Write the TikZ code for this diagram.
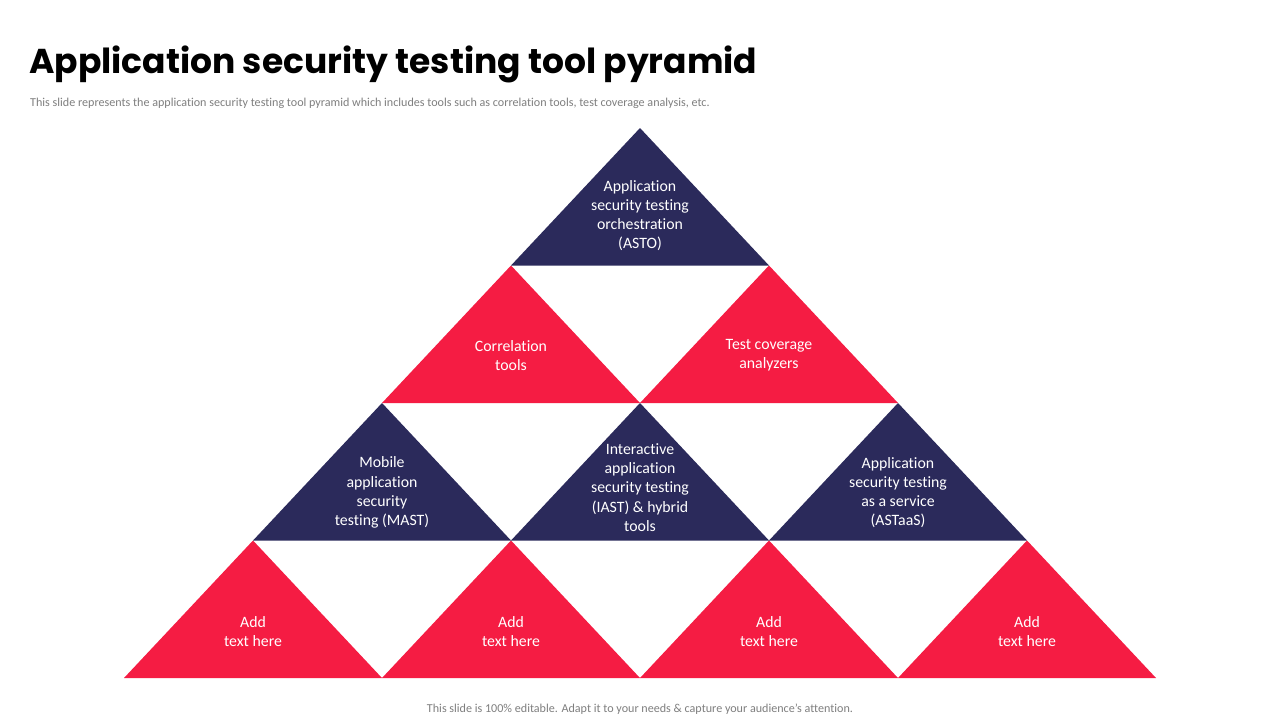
\documentclass[tikz,border=0pt]{standalone}
\usepackage{fontspec}
\setmainfont{Carlito}[Ligatures=NoCommon]
\newfontfamily\titlefont{Poppins}
\newfontfamily\subfont{Carlito}[Ligatures=NoCommon]
\definecolor{navy}{HTML}{2B2A5B}
\definecolor{redc}{HTML}{F51C43}
\definecolor{graytxt}{HTML}{7F7F7F}
\begin{document}
\begin{tikzpicture}[x=1pt,y=-1pt,
  lbl/.style={text=white,align=center,font=\fontsize{15.8}{19.2}\selectfont,inner sep=0pt}]
\useasboundingbox (0,0) rectangle (1280,720);
\fill[white] (0,0) rectangle (1280,720);
% triangles: apex x, apex y
\def\tri#1#2#3{\fill[#3] (#1,#2) -- ({#1+129},{#2+137.5}) -- ({#1-129},{#2+137.5}) -- cycle;}
\tri{640}{128}{navy}
\tri{511}{265.5}{redc}
\tri{769}{265.5}{redc}
\tri{382}{403}{navy}
\tri{640}{403}{navy}
\tri{898}{403}{navy}
\tri{253}{540.5}{redc}
\tri{511}{540.5}{redc}
\tri{769}{540.5}{redc}
\tri{1027}{540.5}{redc}
% labels
\node[lbl] (t1) at (640,215.5) {Application\\security testing\\orchestration\\(ASTO)};
\node[lbl] (t2) at (511,355.5) {Correlation\\tools};
\node[lbl] (t3) at (769,355.5) {Test coverage\\analyzers};
\node[lbl] (t4) at (382,492.5) {Mobile\\application\\security\\testing (MAST)};
\node[lbl] (t5) at (640,487.5) {Interactive\\application\\security testing\\(IAST) \& hybrid\\tools};
\node[lbl] (t6) at (898,492.5) {Application\\security testing\\as a service\\(ASTaaS)};
\node[lbl] (t7) at (253,631.5) {Add\\text here};
\node[lbl] (t8) at (511,631.5) {Add\\text here};
\node[lbl] (t9) at (769,631.5) {Add\\text here};
\node[lbl] (t10) at (1027,631.5) {Add\\text here};
% title
\node[anchor=base west,inner sep=0pt,font=\titlefont\fontsize{34.5}{40}\selectfont\bfseries] (title) at (29,73) {Application security testing tool pyramid};
\node[anchor=base west,inner sep=0pt,text=graytxt,font=\subfont\fontsize{12.1}{14}\selectfont] (sub) at (30,106) {This slide represents the application security testing tool pyramid which includes tools such as correlation tools, test coverage analysis, etc.};
\node[anchor=base,inner sep=0pt,text=graytxt,font=\subfont\fontsize{12.1}{14}\selectfont] (foot) at (640,712) {This slide is 100\% editable. Adapt it to your needs \& capture your audience’s attention.};
\end{tikzpicture}
\end{document}
